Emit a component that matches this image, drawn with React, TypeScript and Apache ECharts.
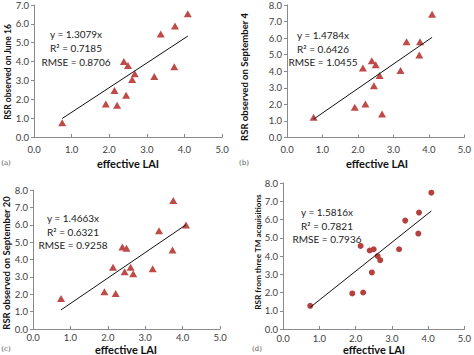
import React, { useEffect, useRef } from "react";
import * as echarts from "echarts";

// Shared effective LAI values (x)
const lai = [0.75, 1.91, 2.14, 2.21, 2.39, 2.45, 2.5, 2.61, 2.68, 3.2, 3.37, 3.73, 3.75, 4.09];
// RSR values per panel
const rsrJune16 = [0.75, 1.75, 2.47, 1.68, 4.0, 2.22, 3.79, 3.05, 3.35, 3.21, 5.46, 3.72, 5.88, 6.54];
const rsrSep4 = [1.22, 1.82, 4.2, 2.02, 4.64, 3.13, 4.4, 3.74, 1.42, 4.04, 5.78, 4.98, 5.78, 7.44];
const rsrSep20 = [1.76, 2.14, 3.55, 2.05, 4.72, 3.29, 4.65, 3.55, 3.18, 3.47, 5.65, 4.54, 7.4, 5.98];
const rsrThreeTM = [1.27, 1.95, 4.55, 2.0, 4.3, 3.1, 4.37, 3.99, 3.77, 4.37, 5.94, 5.23, 6.38, 7.47];
const slopes = [1.3079, 1.4784, 1.4663, 1.5816];
const eqTexts = ["y = 1.3079x", "y = 1.4784x", "y = 1.4663x", "y = 1.5816x"];
const r2Texts = ["R\u00b2 = 0.7185", "R\u00b2 = 0.6426", "R\u00b2 = 0.6321", "R\u00b2 = 0.7821"];
const rmseTexts = ["RMSE = 0.8706", "RMSE = 1.0455", "RMSE = 0.9258", "RMSE = 0.7936"];
const yNames = [
  "RSR observed on June 16",
  "RSR observed on September 4",
  "RSR observed on September 20",
  "RSR from three TM acquisitions",
];
const yMaxes = [7, 8, 8, 8];
const xTicksMax = 5;
const panelTags = ["(a)", "(b)", "(c)", "(d)"];
const xName = "effective LAI";

const seriesData = [rsrJune16, rsrSep4, rsrSep20, rsrThreeTM];

export default function App() {
  const ref = useRef<HTMLDivElement>(null);
  useEffect(() => {
    if (!ref.current) return;
    const chart = echarts.init(ref.current, null, { renderer: "svg" });
    const font = "Lato, 'Open Sans', sans-serif";
    const grids = [
      { left: 34, top: 4, width: 188, height: 133 },
      { left: 287, top: 4, width: 181, height: 133.5 },
      { left: 33, top: 190, width: 187, height: 139 },
      { left: 283, top: 183, width: 185, height: 146 },
    ];
    const xLabelMargins = [7, 7, 3, 4];
    const textPos = [
      { x: 76, y: [34, 48, 62] },
      { x: 323, y: [35, 49, 62] },
      { x: 73, y: [218, 232, 245] },
      { x: 327, y: [212, 226, 239] },
    ];
    const yNamePos = [
      { x: 8, y: 72, size: 8.5 },
      { x: 244, y: 77, size: 9.5 },
      { x: 6, y: 263, size: 9.5 },
      { x: 258, y: 252, size: 8.2 },
    ];
    const xNamePos = [
      { x: 128, y: 163 },
      { x: 377, y: 163 },
      { x: 126, y: 349 },
      { x: 374, y: 349 },
    ];
    const tagPos = [
      { x: 6, y: 163 },
      { x: 244, y: 163 },
      { x: 6, y: 349 },
      { x: 257, y: 349 },
    ];
    const xMin = Math.min(...lai);
    const xMax = Math.max(...lai);
    const axisLine = { lineStyle: { color: "#8a8a8a", width: 1 } };
    const axisLabel = {
      color: "#404040",
      fontFamily: font,
      fontSize: 9.5,
      formatter: (v: number) => v.toFixed(1),
    };
    const xAxis = grids.map((_, i) => ({
      type: "value",
      gridIndex: i,
      min: 0,
      max: xTicksMax,
      interval: 1,
      splitLine: { show: false },
      axisLine: { ...axisLine, onZero: false },
      axisTick: { show: true, length: 3, inside: true, lineStyle: { color: "#8a8a8a" } },
      axisLabel: { ...axisLabel, margin: xLabelMargins[i] },
    }));
    const yAxis = grids.map((_, i) => ({
      type: "value",
      gridIndex: i,
      min: 0,
      max: yMaxes[i],
      interval: 1,
      splitLine: { show: false },
      axisLine: { show: true, ...axisLine, onZero: false },
      axisTick: { show: true, length: 3, lineStyle: { color: "#8a8a8a" } },
      axisLabel: { ...axisLabel, margin: 5 },
    }));
    const series: any[] = [];
    seriesData.forEach((ys, i) => {
      series.push({
        type: "line",
        xAxisIndex: i,
        yAxisIndex: i,
        data: [
          [xMin, slopes[i] * xMin],
          [xMax, slopes[i] * xMax],
        ],
        showSymbol: false,
        symbol: "none",
        lineStyle: { color: "#111", width: 1 },
        z: 3,
      });
      series.push({
        type: "scatter",
        xAxisIndex: i,
        yAxisIndex: i,
        data: lai.map((x, k) => [x, ys[k]]),
        symbol: i === 3 ? "circle" : "triangle",
        symbolSize: i === 3 ? 6 : [8, 7],
        itemStyle: { color: i === 3 ? "#b5413f" : "#be4b48", opacity: 1 },
        z: 2,
      });
    });
    const graphic: any[] = [];
    for (let i = 0; i < 4; i++) {
      const lines = [eqTexts[i], r2Texts[i], rmseTexts[i]];
      lines.forEach((t, k) => {
        graphic.push({
          type: "text",
          x: textPos[i].x,
          y: textPos[i].y[k],
          style: {
            text: t,
            fill: "#222",
            font: `10px ${font}`,
            textAlign: "center",
            textVerticalAlign: "middle",
          },
          z: 10,
        });
      });
      graphic.push({
        type: "text",
        x: yNamePos[i].x,
        y: yNamePos[i].y,
        rotation: Math.PI / 2,
        style: {
          text: yNames[i],
          fill: "#111",
          font: `bold ${yNamePos[i].size}px ${font}`,
          textAlign: "center",
          textVerticalAlign: "middle",
        },
      });
      graphic.push({
        type: "text",
        x: xNamePos[i].x,
        y: xNamePos[i].y,
        style: {
          text: xName,
          fill: "#111",
          font: `bold 11px ${font}`,
          textAlign: "center",
          textVerticalAlign: "middle",
        },
      });
      graphic.push({
        type: "text",
        x: tagPos[i].x,
        y: tagPos[i].y,
        style: {
          text: panelTags[i],
          fill: "#555",
          font: `7px 'DejaVu Serif', serif`,
          textAlign: "center",
          textVerticalAlign: "middle",
        },
      });
    }
    chart.setOption({
      animation: false,
      backgroundColor: "#ffffff",
      grid: grids.map((g) => ({ ...g, containLabel: false })),
      xAxis,
      yAxis,
      series,
      graphic,
    });
    return () => chart.dispose();
  }, []);
  return (
    <div
      ref={ref}
      style={{ position: "fixed", left: 0, top: 0, width: 474, height: 355, background: "#fff" }}
    />
  );
}
